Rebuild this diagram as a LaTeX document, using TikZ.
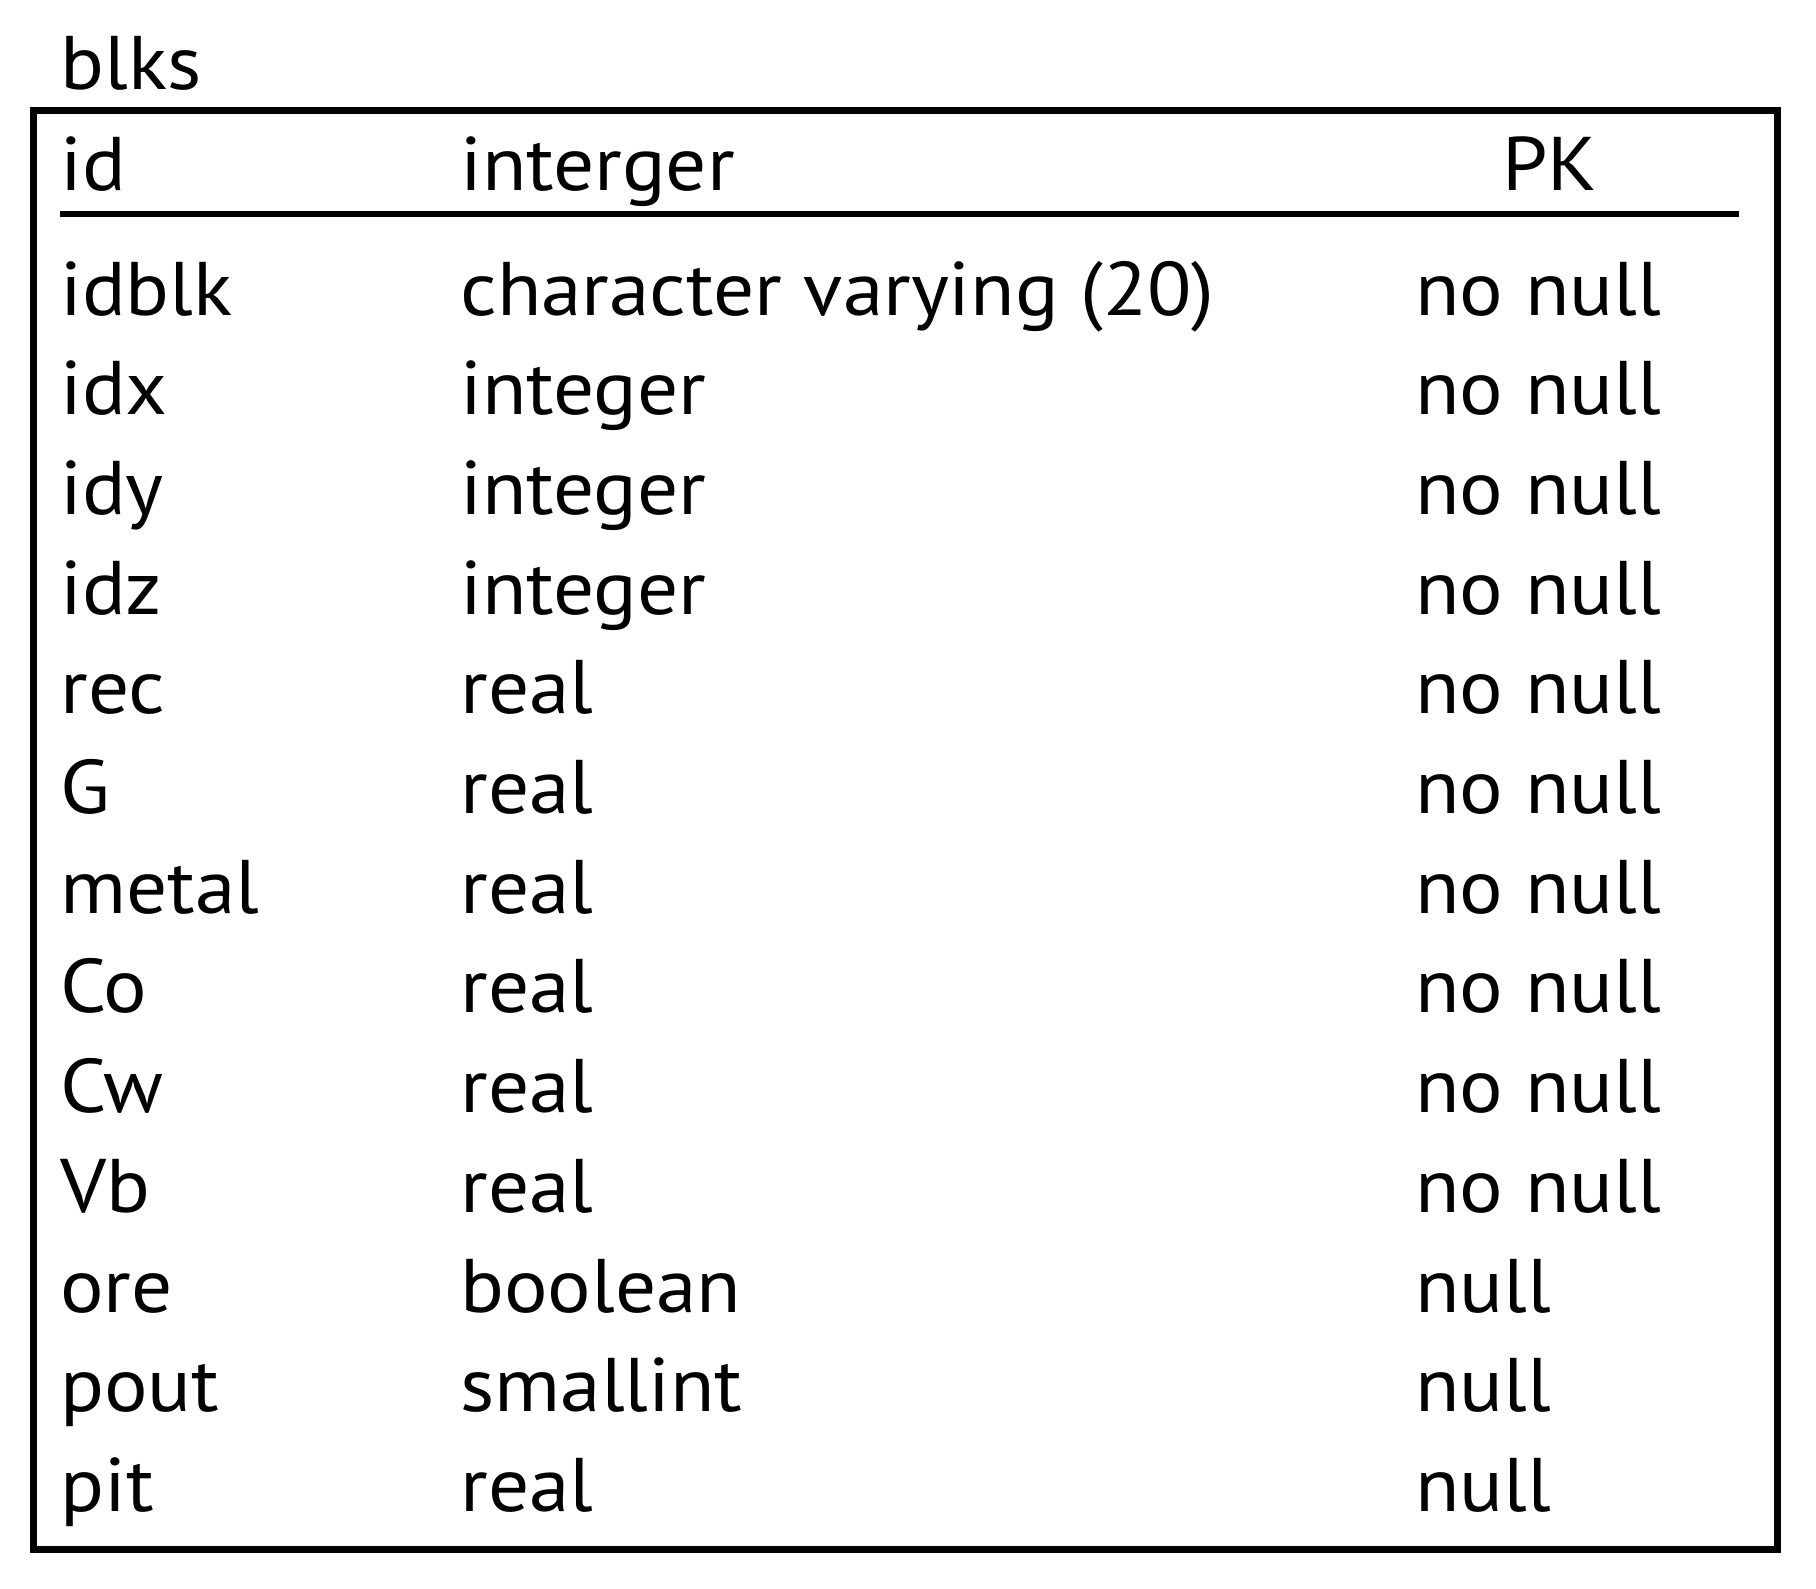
\documentclass[tikz,border=0pt]{standalone}
\usepackage{fontspec}
\setmainfont[FakeStretch=1.07]{PT Sans}
\begin{document}
\begin{tikzpicture}[x=0.5pt,y=-0.5pt,
  cell/.style={anchor=base west, inner sep=0pt, font=\fontsize{38}{40}\selectfont},
  frame/.style={draw=black, line width=3.5pt},
  rulestyle/.style={draw=black, line width=3pt}]
\path[use as bounding box, fill=white] (0,0) rectangle (1816,1589);
\node[cell] (title) at (60,90) {blks};
\draw[frame] (33,111) rectangle (1777,1549);
\node[cell] (hname) at (60,191) {id};
\node[cell] (htype) at (460,191) {interger};
\node[cell] (hkey) at (1502,191) {PK};
\coordinate (ruleL) at (60,214);
\coordinate (ruleR) at (1739,214);
\draw[rulestyle] (ruleL) -- (ruleR);
\foreach \n/\t/\c [count=\i] in {idblk/character varying (20)/no null, idx/integer/no null, idy/integer/no null, idz/integer/no null, rec/real/no null, G/real/no null, metal/real/no null, Co/real/no null, Cw/real/no null, Vb/real/no null, ore/boolean/null, pout/smallint/null, pit/real/null}{
  \pgfmathsetmacro{\yy}{315+(\i-1)*99.7}
  \node[cell] (n\i) at (60,\yy) {\n};
  \node[cell] (t\i) at (460,\yy) {\t};
  \node[cell] (c\i) at (1415,\yy) {\c};
}
\end{tikzpicture}
\end{document}
